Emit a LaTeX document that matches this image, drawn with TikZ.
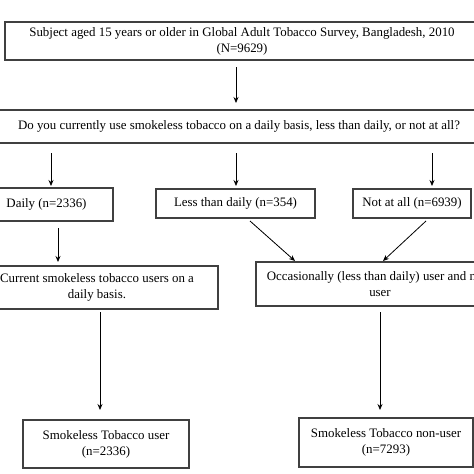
\documentclass[tikz,border=0pt]{standalone}
\usepackage{fontspec}
\setmainfont{Liberation Serif}
\usetikzlibrary{arrows.meta}
\begin{document}
\begin{tikzpicture}[x=1pt,y=-1pt,
  box/.style={draw=black!75,line width=1.1pt,inner sep=0pt,align=center,
    font=\fontsize{12.9}{16}\selectfont},
  conn/.style={draw=black,line width=0.8pt,-{Stealth[length=6pt,width=5pt]}}]
\useasboundingbox (0,0) rectangle (474,474);
\clip (0,0) rectangle (474,474);
\fill[white] (0,0) rectangle (474,474);
% boxes: centre at (x,y), sizes from the reference
\node[box,minimum width=474pt,minimum height=38pt] (top) at (242,41)
  {Subject aged 15 years or older in Global Adult Tobacco Survey, Bangladesh, 2010\\(N=9629)};
\node[box,minimum width=500pt,minimum height=33pt] (q) at (239,126.5)
  {Do you currently use smokeless tobacco on a daily basis, less than daily, or not at all?};
\node[box,minimum width=133pt,minimum height=33pt] (daily) at (46.5,204.5)
  {Daily (n=2336)};
\node[box,minimum width=159pt,minimum height=29pt] (less) at (235.5,203.5)
  {Less than daily (n=354)};
\node[box,minimum width=118pt,minimum height=29pt] (notall) at (412,203.5)
  {Not at all (n=6939)};
\node[box,minimum width=242pt,minimum height=43pt] (cur) at (97,287.5)
  {Current smokeless tobacco users on a\\daily basis.};
\node[box,minimum width=248pt,minimum height=44pt] (occ) at (380,284)
  {Occasionally (less than daily) user and non-\\user};
\node[box,minimum width=166pt,minimum height=48pt] (user) at (106,444)
  {Smokeless Tobacco user\\(n=2336)};
\node[box,minimum width=174pt,minimum height=49pt] (non) at (386,442.5)
  {Smokeless Tobacco non-user\\(n=7293)};
% connector anchor points
\coordinate (t1) at (236,67);
\coordinate (q1) at (236,103);
\coordinate (qa) at (51,153);
\coordinate (qb) at (236,153);
\coordinate (qc) at (432,153);
\coordinate (da) at (51,186);
\coordinate (db) at (236,186);
\coordinate (dc) at (432,186);
\coordinate (d1) at (58,228);
\coordinate (c1) at (58,262);
\coordinate (l1) at (250,221);
\coordinate (o1) at (295,261);
\coordinate (n1) at (426,221);
\coordinate (o2) at (383,261);
\coordinate (cb) at (100,312);
\coordinate (ut) at (100,410);
\coordinate (ob) at (380,312);
\coordinate (nt) at (380,410);
\draw[conn] (t1) -- (q1);
\draw[conn] (qa) -- (da);
\draw[conn] (qb) -- (db);
\draw[conn] (qc) -- (dc);
\draw[conn] (d1) -- (c1);
\draw[conn] (l1) -- (o1);
\draw[conn] (n1) -- (o2);
\draw[conn] (cb) -- (ut);
\draw[conn] (ob) -- (nt);
\end{tikzpicture}
\end{document}
